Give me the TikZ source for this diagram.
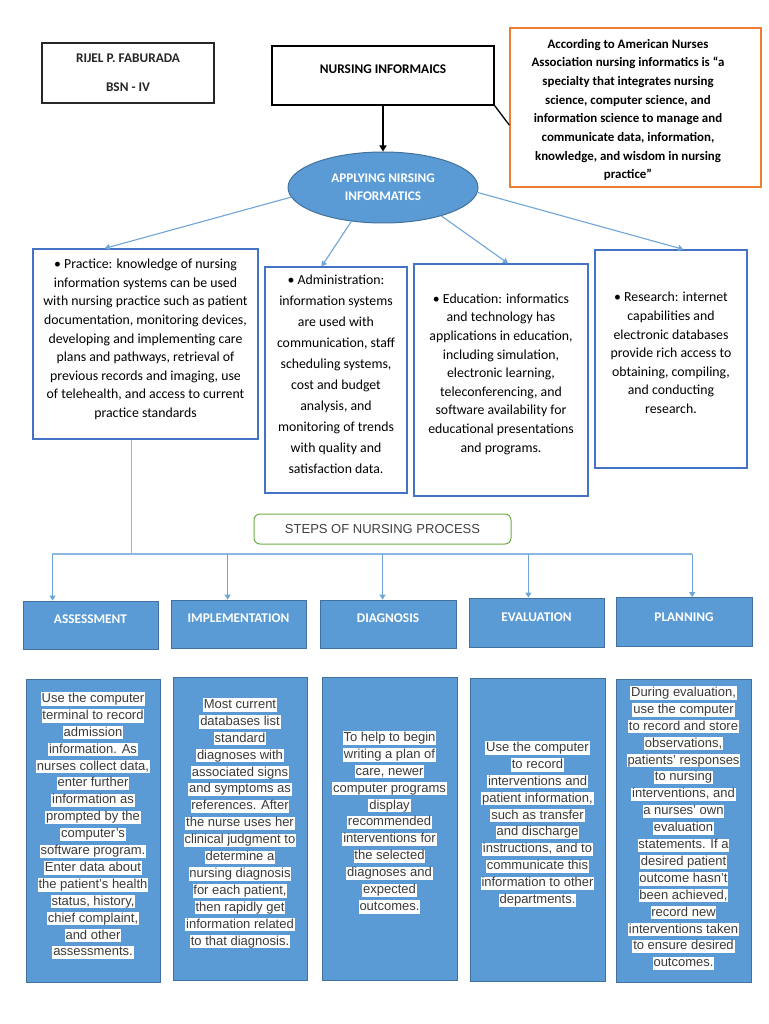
\documentclass[tikz,border=0pt]{standalone}
\usepackage{fontspec}
\setmainfont{Carlito}
\newfontfamily\arialf{Liberation Sans}
\usetikzlibrary{arrows.meta,calc,shapes.geometric}
\definecolor{boxblue}{HTML}{4472C4}
\definecolor{fillblue}{HTML}{5B9BD5}
\definecolor{darkblue}{HTML}{41719C}
\definecolor{linkblue}{HTML}{6FA5D9}
\definecolor{trunkblue}{HTML}{8DB8E2}
\definecolor{orangeb}{HTML}{ED7D31}
\definecolor{greenb}{HTML}{70AD47}
\definecolor{txtgray}{HTML}{3A3A3A}
\definecolor{stepgray}{HTML}{404040}
\newcommand\descf{\arialf\fontsize{13}{16.9}\selectfont}
\newcommand\boxf{\fontsize{13.8}{18.6}\selectfont}
\begin{document}
\begin{tikzpicture}[x=1pt,y=-1pt,
  plainbox/.style={draw=#1, line width=1.2pt, inner sep=0pt, fill=white},
  infobox/.style={draw=boxblue, line width=1.3pt, inner sep=0pt, fill=white},
  stepbox/.style={draw=darkblue, line width=0.8pt, fill=fillblue, inner sep=0pt},
  descbox/.style={draw=darkblue, line width=0.8pt, fill=fillblue, inner sep=0pt, minimum height=303pt},
  boxtext/.style={align=center, inner sep=0pt, font=\boxf, text=black},
  steplabel/.style={inner sep=0pt, font=\bfseries\fontsize{13.3}{16}\selectfont, text=white},
  hl/.style={fill=white, inner xsep=0.8pt, inner ysep=0pt, text height=10pt, text depth=3.2pt, text=txtgray, font=\descf},
  conn/.style={draw=linkblue, line width=1.1pt},
  trunkline/.style={draw=trunkblue, line width=1.1pt},
  arr/.style={conn, -{Triangle[width=6pt,length=5pt]}},
]
\useasboundingbox[fill=white] (0,0) rectangle (768,1024);

% ---------- top ----------
\node[plainbox=black!85, minimum width=172pt, minimum height=60pt] (name) at (128,73) {};
\node[inner sep=0pt, font=\bfseries\fontsize{13.3}{16}\selectfont, text=black!85] (name1) at (128,58) {RIJEL P. FABURADA};
\node[inner sep=0pt, font=\bfseries\fontsize{13.3}{16}\selectfont, text=black!85] (name2) at (128,87) {BSN - IV};

\node[plainbox=black, line width=1.5pt, minimum width=222pt, minimum height=59pt] (ni) at (383,75.5) {};
\node[inner sep=0pt, font=\bfseries\fontsize{13.3}{16}\selectfont] (nit) at (383,69) {NURSING INFORMAICS};

\node[plainbox=orangeb, line width=1.3pt, minimum width=251pt, minimum height=159pt] (quote) at (635.5,107.5) {};
\node[align=center, inner sep=0pt, font=\bfseries\fontsize{12.9}{18.7}\selectfont] (quotet) at (628,110) {According to American Nurses\\Association nursing informatics is “a\\specialty that integrates nursing\\science, computer science, and\\information science to manage and\\communicate data, information,\\knowledge, and wisdom in nursing\\practice”};

\node[ellipse, draw=darkblue, line width=1pt, fill=fillblue, minimum width=190pt, minimum height=71pt, inner sep=0pt] (ell) at (383,187.5) {};
\node[align=center, inner sep=0pt, text=white, font=\bfseries\fontsize{13.2}{18}\selectfont] (ellt) at (383,187) {APPLYING NIRSING\\INFORMATICS};

\draw[black, line width=1.4pt, -{Triangle[width=7pt,length=6pt]}] (ni.south) -- (ell.north);
\draw[black, line width=1.3pt] (ni.south east) -- ($(quote.north west)!0.61!(quote.south west)$);

% ---------- four application boxes ----------
\node[infobox, minimum width=225pt, minimum height=190pt] (practice) at (145.5,344) {};
\node[boxtext] (practicet) at (145.5,339.5) {• Practice: knowledge of nursing\\information systems can be used\\with nursing practice such as patient\\documentation, monitoring devices,\\developing and implementing care\\plans and pathways, retrieval of\\previous records and imaging, use\\of telehealth, and access to current\\practice standards};

\node[infobox, minimum width=142pt, minimum height=226pt] (admin) at (336,380) {};
\node[boxtext, font=\fontsize{13.8}{21}\selectfont] (admint) at (336,374.5) {• Administration:\\information systems\\are used with\\communication, staff\\scheduling systems,\\cost and budget\\analysis, and\\monitoring of trends\\with quality and\\satisfaction data.};

\node[infobox, minimum width=174pt, minimum height=232pt] (edu) at (501,380) {};
\node[boxtext] (edut) at (501,374) {• Education: informatics\\and technology has\\applications in education,\\including simulation,\\electronic learning,\\teleconferencing, and\\software availability for\\educational presentations\\and programs.};

\node[infobox, minimum width=152pt, minimum height=218pt] (research) at (671,359) {};
\node[boxtext] (researcht) at (671,353) {• Research: internet\\capabilities and\\electronic databases\\provide rich access to\\obtaining, compiling,\\and conducting\\research.};

\draw[arr] (ell.186) -- ($(practice.north west)!0.32!(practice.north east)$);
\draw[arr] (ell.227) -- ($(admin.north west)!0.40!(admin.north east)$);
\draw[arr] (ell.334) -- ($(edu.north west)!0.54!(edu.north east)$);
\draw[arr] (ell.357) -- ($(research.north west)!0.58!(research.north east)$);

% ---------- steps ----------
\node[draw=greenb, line width=1pt, rounded corners=6pt, fill=white, minimum width=257pt, minimum height=30pt, inner sep=0pt, font=\arialf\fontsize{13}{16}\selectfont, text=stepgray] (steps) at (382.5,529) {STEPS OF NURSING PROCESS};

\node[stepbox, minimum width=135pt, minimum height=48pt] (assess) at (90.5,625) {};
\node[steplabel] (assesst) at (90.5,619) {ASSESSMENT};
\node[stepbox, minimum width=135pt, minimum height=48pt] (impl) at (238.5,624) {};
\node[steplabel] (implt) at (238.5,618) {IMPLEMENTATION};
\node[stepbox, minimum width=136pt, minimum height=48pt] (diag) at (388,624) {};
\node[steplabel] (diagt) at (388,618) {DIAGNOSIS};
\node[stepbox, minimum width=135pt, minimum height=49pt] (evalb) at (536.5,622.5) {};
\node[steplabel] (evalt) at (536.5,617) {EVALUATION};
\node[stepbox, minimum width=136pt, minimum height=49pt] (plan) at (684,622) {};
\node[steplabel] (plant) at (684,617) {PLANNING};

\coordinate (trunk) at (0,554);
\coordinate (pB) at ($(practice.south west)!0.44!(practice.south east)$);
\coordinate (aT) at ($(assess.north west)!0.22!(assess.north east)$);
\coordinate (iT) at ($(impl.north west)!0.42!(impl.north east)$);
\coordinate (dT) at ($(diag.north west)!0.46!(diag.north east)$);
\coordinate (eT) at ($(evalb.north west)!0.44!(evalb.north east)$);
\coordinate (lT) at ($(plan.north west)!0.56!(plan.north east)$);

\draw[trunkline] (pB) -- (pB |- trunk);
\draw[trunkline] (aT |- trunk) -- (lT |- trunk);
\foreach \c in {aT,iT,dT,eT,lT} \draw[arr] (\c |- trunk) -- (\c);

% ---------- description boxes ----------
\node[descbox, minimum width=134pt] (d1) at (93,830.5) {};
\node[descbox, minimum width=134pt] (d2) at (240,828.5) {};
\node[descbox, minimum width=135pt] (d3) at (389.5,828.5) {};
\node[descbox, minimum width=135pt] (d4) at (537.5,830) {};
\node[descbox, minimum width=135pt] (d5) at (683.5,831) {};

\foreach \t [count=\i] in {Use the computer, terminal to record, admission, information. As, {nurses collect data,}, enter further, information as, prompted by the, computer’s, software program., Enter data about, the patient’s health, {status, history,}, {chief complaint,}, and other, assessments.}
  \node[hl] (da\i) at (93,{699+(\i-1)*16.9}) {\t};

\foreach \t [count=\i] in {Most current, databases list, standard, diagnoses with, associated signs, and symptoms as, references. After, the nurse uses her, clinical judgment to, determine a, nursing diagnosis, {for each patient,}, then rapidly get, information related, to that diagnosis.}
  \node[hl] (db\i) at (240,{705+(\i-1)*16.9}) {\t};

\foreach \t [count=\i] in {To help to begin, writing a plan of, {care, newer}, computer programs, display, recommended, interventions for, the selected, diagnoses and, expected, outcomes.}
  \node[hl] (dc\i) at (389.5,{738+(\i-1)*16.9}) {\t};

\foreach \t [count=\i] in {Use the computer, to record, interventions and, {patient information,}, such as transfer, and discharge, {instructions, and to}, communicate this, information to other, departments.}
  \node[hl] (dd\i) at (537.5,{748+(\i-1)*16.9}) {\t};

\foreach \t [count=\i] in {{During evaluation,}, use the computer, to record and store, {observations,}, patients’ responses, to nursing, {interventions, and}, a nurses’ own, evaluation, statements. If a, desired patient, outcome hasn’t, {been achieved,}, record new, interventions taken, to ensure desired, outcomes.}
  \node[hl] (de\i) at (683.5,{693+(\i-1)*16.9}) {\t};
\end{tikzpicture}
\end{document}
